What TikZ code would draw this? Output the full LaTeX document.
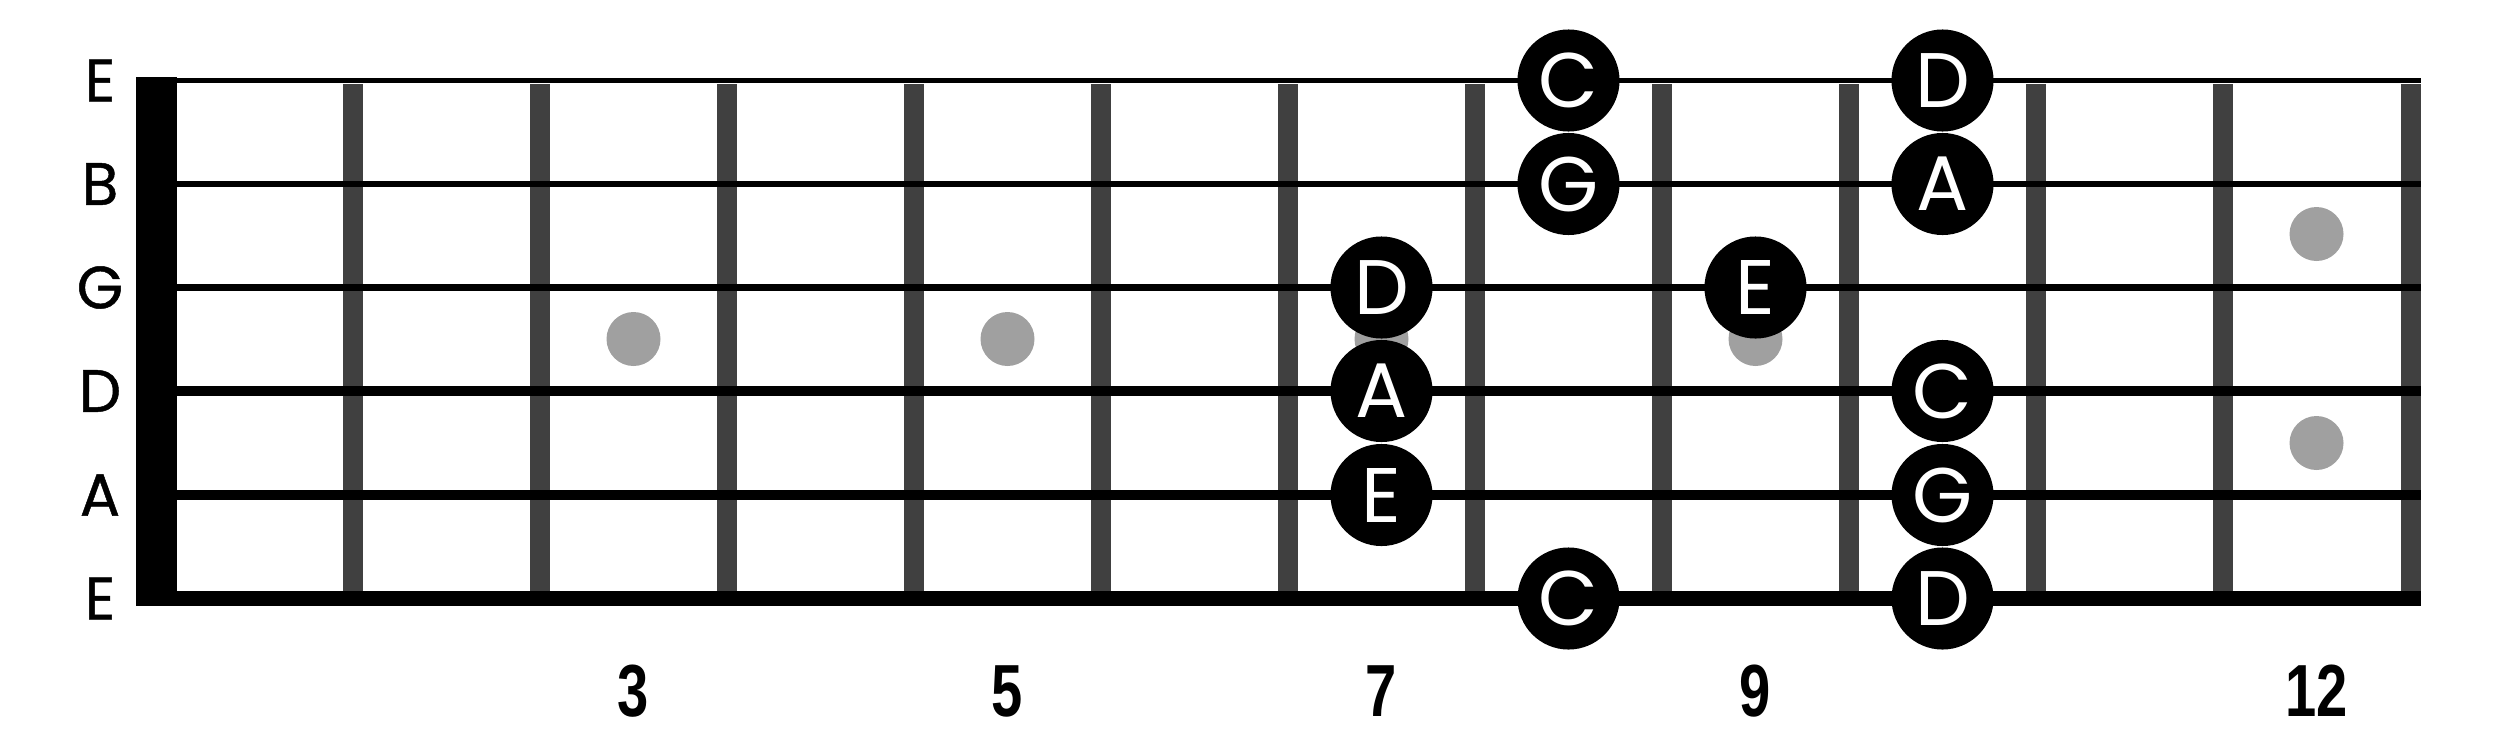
\documentclass[tikz,border=0pt]{standalone}
\usepackage{fontspec}
\setmainfont{Poppins}
\newfontfamily\namefont[FakeBold=0.8]{Poppins}
\newfontfamily\numfont[FakeStretch=0.76]{Liberation Sans}
\definecolor{fretgray}{HTML}{404040}
\definecolor{dotgray}{HTML}{A0A0A0}
\begin{document}
\begin{tikzpicture}[x=0.01cm, y=-0.01cm,
    fret/.style={draw=fretgray, line width=5.7pt},
    string/.style={draw=black},
    inlay/.style={fill=dotgray},
    note/.style={circle, fill=black, inner sep=0pt, minimum size=1.02cm, text=white, font=\fontsize{22}{26}\selectfont},
    strlabel/.style={inner sep=0pt, font=\namefont\fontsize{17}{20}\selectfont},
    fretnum/.style={inner sep=0pt, anchor=base, font=\numfont\bfseries\fontsize{21}{24}\selectfont}]
        \useasboundingbox (0,0) rectangle (2500,736);

        % nut
        \fill (136,77) rectangle (177,606);

        % frets
        \path[fret] (353,84) -- (353,591)  (540,84) -- (540,591)  (727,84) -- (727,591)
                    (914,84) -- (914,591)  (1101,84) -- (1101,591)  (1288,84) -- (1288,591)
                    (1475,84) -- (1475,591)  (1662,84) -- (1662,591)  (1849,84) -- (1849,591)
                    (2036,84) -- (2036,591)  (2223,84) -- (2223,591)  (2411,84) -- (2411,591);

        % inlays
        \fill[inlay] (633.5,339) circle (27);
        \fill[inlay] (1007.5,339) circle (27);
        \fill[inlay] (1381.5,339) circle (27);
        \fill[inlay] (1755.5,339) circle (27);
        \fill[inlay] (2316.5,234) circle (27);
        \fill[inlay] (2316.5,443) circle (27);

        % strings
        \path[string, line width=1.7pt] (177,80.5) -- (2421,80.5);
        \path[string, line width=1.7pt] (177,184) -- (2421,184);
        \path[string, line width=2pt] (177,287.5) -- (2421,287.5);
        \path[string, line width=2.6pt] (177,391) -- (2421,391);
        \path[string, line width=3.1pt] (177,495) -- (2421,495);
        \path[string, line width=4.3pt] (177,598.5) -- (2421,598.5);

        % string names
        \node[strlabel] (nameE) at (100,80.5) {E};
        \node[strlabel] (nameB) at (100,184) {B};
        \node[strlabel] (nameG) at (100,287.5) {G};
        \node[strlabel] (nameD) at (100,391) {D};
        \node[strlabel] (nameA) at (100,495) {A};
        \node[strlabel] (namelowE) at (100,598.5) {E};

        % scale notes
        \node[note] (hiEeight) at (1568.5,80.5) {C};
        \node[note] (hiEten) at (1942.5,80.5) {D};
        \node[note] (Beight) at (1568.5,184) {G};
        \node[note] (Bten) at (1942.5,184) {A};
        \node[note] (Gseven) at (1381.5,287.5) {D};
        \node[note] (Gnine) at (1755.5,287.5) {E};
        \node[note] (Dseven) at (1381.5,391) {A};
        \node[note] (Dten) at (1942.5,391) {C};
        \node[note] (Aseven) at (1381.5,495) {E};
        \node[note] (Aten) at (1942.5,495) {G};
        \node[note] (loEeight) at (1568.5,598.5) {C};
        \node[note] (loEten) at (1942.5,598.5) {D};

        % fret numbers
        \node[fretnum] (numthree) at (633.5,716) {3};
        \node[fretnum] (numfive) at (1007.5,716) {5};
        \node[fretnum] (numseven) at (1381.5,716) {7};
        \node[fretnum] (numnine) at (1755.5,716) {9};
        \node[fretnum] (numtwelve) at (2316.5,716) {12};
    \end{tikzpicture}
\end{document}
